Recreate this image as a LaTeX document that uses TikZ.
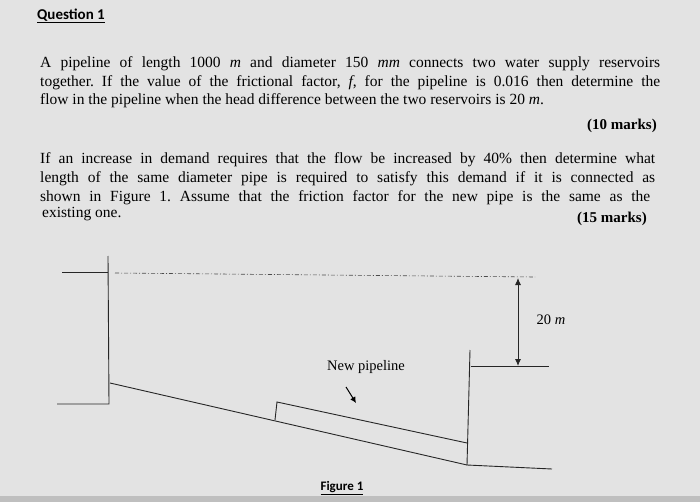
\documentclass[tikz,border=0pt]{standalone}
\usepackage{fontspec}
\usetikzlibrary{arrows.meta}
\setmainfont{Liberation Serif}
\newfontfamily\carl{Carlito}
\frenchspacing
\begin{document}
\begin{tikzpicture}[x=1pt,y=-1pt,
  txt/.style={anchor=west,inner sep=0pt,font=\fontsize{15.5}{17}\selectfont},
  ln/.style={line width=0.9pt,draw=black!85},
  lbl/.style={inner sep=0pt,font=\fontsize{14.5}{16}\selectfont}]
\fill[black!11] (0,0) rectangle (700,502);
\fill[black!25] (0,496) rectangle (700,502);
\useasboundingbox (0,0) rectangle (700,502);
\node[anchor=west,inner sep=0pt,font=\carl\bfseries\fontsize{15}{17}\selectfont] (q) at (37,16) {\underline{Question 1}};
\node[txt] (l1) at (40,64) {\makebox[620pt][s]{A pipeline of length 1000 \textit{m} and diameter 150 \textit{mm} connects two water supply reservoirs}};
\node[txt] (l2) at (40,83) {\makebox[620pt][s]{together. If the value of the frictional factor, \textit{f}, for the pipeline is 0.016 then determine the}};
\node[txt] (l3) at (40,101) {flow in the pipeline when the head difference between the two reservoirs is 20 \textit{m}.};
\node[txt,anchor=east,font=\bfseries\fontsize{15}{17}\selectfont] (m1) at (657,126) {(10 marks)};
\node[txt] (p1) at (40,160) {\makebox[615pt][s]{If an increase in demand requires that the flow be increased by 40\% then determine what}};
\node[txt] (p2) at (40,179) {\makebox[615pt][s]{length of the same diameter pipe is required to satisfy this demand if it is connected as}};
\node[txt] (p3) at (40,198) {\makebox[610pt][s]{shown in Figure 1. Assume that the friction factor for the new pipe is the same as the}};
\node[txt] (p4) at (42,214) {existing one.};
\node[txt,anchor=east,font=\bfseries\fontsize{15}{17}\selectfont] (m2) at (647,219) {(15 marks)};
% left reservoir
\coordinate (lt) at (108,256); \coordinate (lb) at (109,404);
\draw[ln] (62,272) -- (108,272);
\draw[ln] (lt) -- (lb) -- (57,404);
% pipeline
\coordinate (ps) at (110,383); \coordinate (pe) at (467,465);
\coordinate (n1) at (275,420); \coordinate (n2) at (277,402); \coordinate (n3) at (467,443);
\draw[ln] (ps) -- (pe);
\draw[ln] (n1) -- (n2) -- (n3);
% right reservoir
\coordinate (rt) at (470,350);
\draw[ln] (rt) -- (pe) -- (552,469);
\draw[ln] (471,366) -- (549,366);
% datum line
\draw[line width=0.6pt,black!70,dash pattern=on 4pt off 2pt on 1pt off 2pt] (115,273) -- (535,277);
\coordinate (a1) at (518,278); \coordinate (a2) at (518,366);
\draw[ln,-{Latex[length=7pt,width=6pt]}] (a1|-0,300) -- (a1); \draw[ln,-{Latex[length=7pt,width=6pt]}] (a1|-0,300) -- (a2);
\node[lbl] (h) at (551,320) {20 \textit{m}};
\node[lbl] (np) at (366,367) {New pipeline};
\coordinate (t1) at (346,387); \coordinate (t2) at (356,403);
\draw[line width=1pt,-{Latex[length=6pt,width=6pt]}] (t1) -- (t2);
\node[inner sep=0pt,font=\carl\bfseries\fontsize{13}{15}\selectfont] (fig) at (342,488) {\underline{Figure 1}};
\end{tikzpicture}
\end{document}
